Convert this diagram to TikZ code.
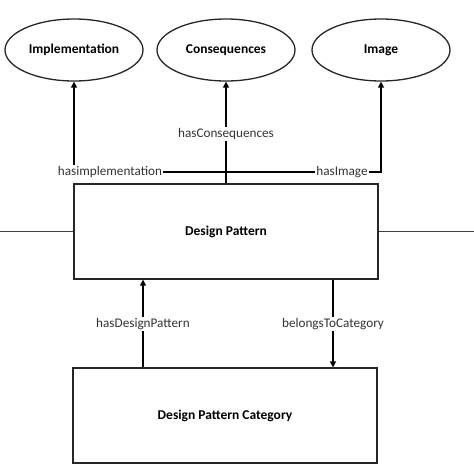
\documentclass[tikz,border=0pt]{standalone}
\usepackage{fontspec}
\setmainfont{Carlito}
\usetikzlibrary{arrows.meta,shapes.geometric}
\begin{document}
\begin{tikzpicture}[x=1pt,y=-1pt,
  ent/.style={draw=black!85,line width=1.3pt,ellipse,minimum width=138pt,minimum height=62pt,font=\bfseries\fontsize{13.5}{15}\selectfont},
  cls/.style={draw=black!85,line width=1.3pt,rectangle,minimum width=304pt,minimum height=95pt,font=\bfseries\fontsize{13.5}{15}\selectfont},
  rel/.style={draw=black,line width=1.4pt,-{Triangle[width=6pt,length=6pt]}},
  plain/.style={draw=black!75,line width=1pt},
  lbl/.style={fill=white,inner sep=1pt,font=\fontsize{13.2}{14}\selectfont,text=black!80}]
\useasboundingbox (0,0) rectangle (474,474);
\node[ent] (impl) at (74,50) {Implementation};
\node[ent] (cons) at (226,50) {Consequences};
\node[ent] (img) at (381,50) {Image};
\node[cls] (dp) at (226,231.5) {Design Pattern};
\node[cls] (dpc) at (225,415.5) {Design Pattern Category};
\coordinate (j) at (226,172);
\coordinate (lw) at (0,231.5);
\coordinate (le) at (474,231.5);
\draw[plain] (dp.west) -- (lw);
\draw[plain] (dp.east) -- (le);
\draw[rel] (dp.north) -- (cons.south);
\draw[rel] (j) -| (impl.south);
\draw[rel] (j) -| (img.south);
\node[lbl] (lc) at (226,134) {hasConsequences};
\node[lbl] (li) at (110,172) {hasimplementation};
\node[lbl] (lm) at (342,172) {hasImage};
\draw[rel] (dpc.north -| 143,0) -- (dp.south -| 143,0);
\draw[rel] (dp.south -| 333,0) -- (dpc.north -| 333,0);
\node[lbl] (ldp) at (143,324) {hasDesignPattern};
\node[lbl] (lbc) at (333,324) {belongsToCategory};
\end{tikzpicture}
\end{document}
